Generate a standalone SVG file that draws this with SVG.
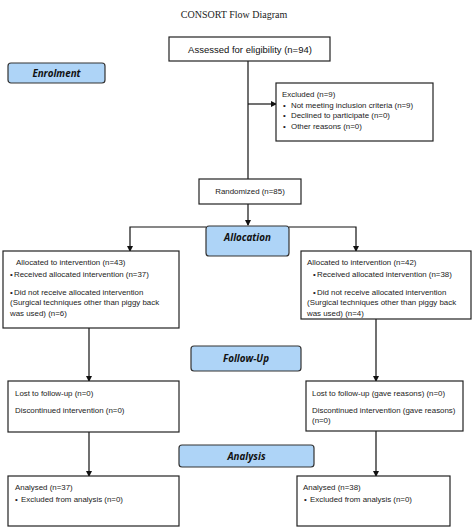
<svg xmlns="http://www.w3.org/2000/svg" width="474" height="529" viewBox="0 0 474 529">
<style>
.box{fill:#fff;stroke:#222;stroke-width:1.2}
.phase{fill:#aed4f7;stroke:#333;stroke-width:1.2}
.t{font-family:"Liberation Sans",Arial,sans-serif;font-size:7.9px;fill:#222}
.tm{font-family:"Liberation Sans",Arial,sans-serif;font-size:9.5px;fill:#111}
.ph{font-family:"Open Sans","DejaVu Sans",sans-serif;font-size:9.8px;font-weight:bold;font-style:italic;fill:#111}
.title{font-family:"Liberation Serif","Times New Roman",serif;font-size:10px;fill:#222}
.ln{stroke:#111;stroke-width:1.2;fill:none}
</style>
<defs>
<marker id="ar" markerWidth="6" markerHeight="6" refX="5" refY="3" orient="auto" markerUnits="userSpaceOnUse">
<path d="M0,0 L6,3 L0,6 Z" fill="#111"/>
</marker>
</defs>
<text class="title" x="234" y="18" text-anchor="middle">CONSORT Flow Diagram</text>
<g id="connectors">
<line class="ln" x1="248" y1="61" x2="248" y2="179"/>
<line class="ln" x1="248" y1="104" x2="276" y2="104" marker-end="url(#ar)"/>
<line class="ln" x1="248" y1="204" x2="248" y2="225" marker-end="url(#ar)"/>
<polyline class="ln" points="206,227 130,227 130,251" marker-end="url(#ar)"/>
<polyline class="ln" points="289,227 356,227 356,251" marker-end="url(#ar)"/>
<line class="ln" x1="89" y1="328" x2="89" y2="381" marker-end="url(#ar)"/>
<line class="ln" x1="376" y1="319" x2="376" y2="381" marker-end="url(#ar)"/>
<line class="ln" x1="89" y1="432" x2="89" y2="476" marker-end="url(#ar)"/>
<line class="ln" x1="376" y1="431" x2="376" y2="476" marker-end="url(#ar)"/>
</g>
<g id="assessed">
<rect class="box" x="169" y="37" width="161" height="24"/>
<text class="tm" x="250" y="52.5" text-anchor="middle">Assessed for eligibility (n=94)</text>
</g>
<g id="enrolment">
<rect class="phase" x="8" y="63" width="97" height="20" rx="3"/>
<text class="ph" x="56.5" y="76.5" text-anchor="middle">Enrolment</text>
</g>
<g id="excluded">
<rect class="box" x="276" y="83" width="157" height="58"/>
<text class="t" x="282" y="97">Excluded (n=9)</text>
<text class="t" x="283" y="107.5">•</text><text class="t" x="291" y="107.5">Not meeting inclusion criteria (n=9)</text>
<text class="t" x="283" y="118">•</text><text class="t" x="291" y="118">Declined to participate (n=0)</text>
<text class="t" x="283" y="128.5">•</text><text class="t" x="291" y="128.5">Other reasons (n=0)</text>
</g>
<g id="randomized">
<rect class="box" x="199" y="179" width="102" height="25"/>
<text class="t" x="250" y="193.5" text-anchor="middle">Randomized (n=85)</text>
</g>
<g id="allocation">
<rect class="phase" x="206" y="226" width="83" height="30" rx="3"/>
<text class="ph" x="247.5" y="241" text-anchor="middle">Allocation</text>
</g>
<g id="alloc-left">
<rect class="box" x="3" y="251" width="176" height="77"/>
<text class="t" x="16" y="264.5">Allocated to intervention (n=43)</text>
<text class="t" x="10" y="276.5">•</text><text class="t" x="14" y="276.5">Received allocated intervention (n=37)</text>
<text class="t" x="10" y="294.5">•</text><text class="t" x="14" y="294.5">Did not receive allocated intervention</text>
<text class="t" x="10" y="305">(Surgical techniques other than piggy back</text>
<text class="t" x="10" y="315.5">was used) (n=6)</text>
</g>
<g id="alloc-right">
<rect class="box" x="301" y="251" width="170" height="68"/>
<text class="t" x="307" y="264.5">Allocated to intervention (n=42)</text>
<text class="t" x="313" y="276.5">•</text><text class="t" x="317" y="276.5">Received allocated intervention (n=38)</text>
<text class="t" x="313" y="294.5">•</text><text class="t" x="317" y="294.5">Did not receive allocated intervention</text>
<text class="t" x="307" y="305">(Surgical techniques other than piggy back</text>
<text class="t" x="307" y="315.5">was used) (n=4)</text>
</g>
<g id="followup">
<rect class="phase" x="191" y="346" width="110" height="25" rx="3"/>
<text class="ph" x="246" y="362" text-anchor="middle">Follow-Up</text>
</g>
<g id="lost-left">
<rect class="box" x="8" y="381" width="171" height="51"/>
<text class="t" x="15" y="395.5">Lost to follow-up (n=0)</text>
<text class="t" x="15" y="412.5">Discontinued intervention (n=0)</text>
</g>
<g id="lost-right">
<rect class="box" x="306" y="381" width="157" height="50"/>
<text class="t" x="312" y="395.5">Lost to follow-up (gave reasons) (n=0)</text>
<text class="t" x="312" y="412.5">Discontinued intervention (gave reasons)</text>
<text class="t" x="312" y="423">(n=0)</text>
</g>
<g id="analysis">
<rect class="phase" x="179" y="445" width="135" height="22" rx="3"/>
<text class="ph" x="246.5" y="459.5" text-anchor="middle">Analysis</text>
</g>
<g id="analysed-left">
<rect class="box" x="8" y="476" width="171" height="50"/>
<text class="t" x="15" y="489.5">Analysed (n=37)</text>
<text class="t" x="15" y="501.5">•</text><text class="t" x="21" y="501.5">Excluded from analysis (n=0)</text>
</g>
<g id="analysed-right">
<rect class="box" x="297" y="476" width="153" height="50"/>
<text class="t" x="303" y="489.5">Analysed (n=38)</text>
<text class="t" x="304" y="501.5">•</text><text class="t" x="310" y="501.5">Excluded from analysis (n=0)</text>
</g>
</svg>
